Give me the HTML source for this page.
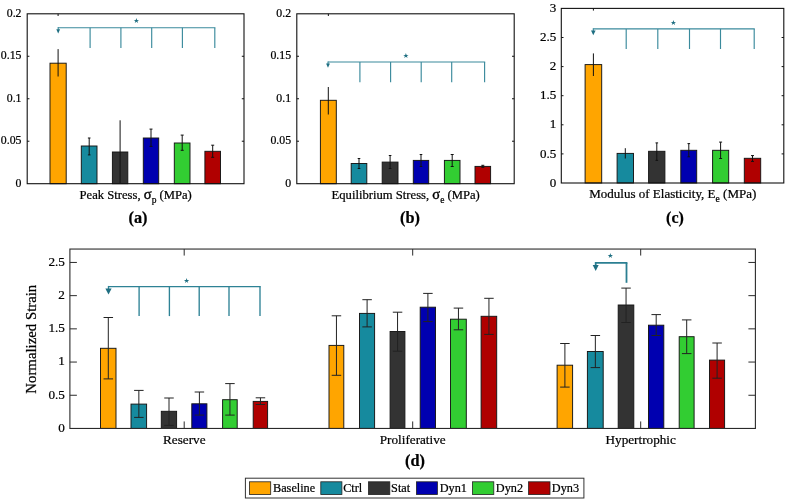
<!DOCTYPE html>
<html><head><meta charset="utf-8"><title>Figure</title>
<style>
html,body{margin:0;padding:0;background:#fff;}
svg{display:block;font-family:"Liberation Serif","DejaVu Serif",serif;}
svg text{stroke:#000;stroke-width:0.22px;}
svg text.star{stroke:none;}
</style></head>
<body>
<svg width="785" height="499" viewBox="0 0 785 499">
<rect width="785" height="499" fill="#fff"/>
<rect x="50.00" y="63.20" width="16.20" height="120.50" fill="#FFA500" stroke="#151515" stroke-width="0.95"/>
<rect x="81.30" y="146.00" width="15.70" height="37.70" fill="#168A9E" stroke="#151515" stroke-width="0.95"/>
<rect x="112.40" y="152.00" width="15.40" height="31.70" fill="#333333" stroke="#151515" stroke-width="0.95"/>
<rect x="143.30" y="138.00" width="15.40" height="45.70" fill="#0000B0" stroke="#151515" stroke-width="0.95"/>
<rect x="174.30" y="143.00" width="15.70" height="40.70" fill="#32CD32" stroke="#151515" stroke-width="0.95"/>
<rect x="204.90" y="151.30" width="15.60" height="32.40" fill="#B00000" stroke="#151515" stroke-width="0.95"/>
<line x1="58.10" y1="49.10" x2="58.10" y2="76.50" stroke="#111" stroke-width="1.0" />
<line x1="89.20" y1="138.00" x2="89.20" y2="154.90" stroke="#111" stroke-width="1.0" />
<line x1="87.90" y1="138.00" x2="90.50" y2="138.00" stroke="#111" stroke-width="1.0" />
<line x1="87.90" y1="154.90" x2="90.50" y2="154.90" stroke="#111" stroke-width="1.0" />
<line x1="120.10" y1="120.30" x2="120.10" y2="183.00" stroke="#111" stroke-width="1.0" />
<line x1="151.00" y1="129.10" x2="151.00" y2="146.40" stroke="#111" stroke-width="1.0" />
<line x1="149.50" y1="129.10" x2="152.50" y2="129.10" stroke="#111" stroke-width="1.0" />
<line x1="149.50" y1="146.40" x2="152.50" y2="146.40" stroke="#111" stroke-width="1.0" />
<line x1="182.20" y1="135.10" x2="182.20" y2="150.30" stroke="#111" stroke-width="1.0" />
<line x1="180.70" y1="135.10" x2="183.70" y2="135.10" stroke="#111" stroke-width="1.0" />
<line x1="180.70" y1="150.30" x2="183.70" y2="150.30" stroke="#111" stroke-width="1.0" />
<line x1="212.70" y1="145.20" x2="212.70" y2="157.30" stroke="#111" stroke-width="1.0" />
<line x1="211.20" y1="145.20" x2="214.20" y2="145.20" stroke="#111" stroke-width="1.0" />
<line x1="211.20" y1="157.30" x2="214.20" y2="157.30" stroke="#111" stroke-width="1.0" />
<rect x="27.20" y="13.80" width="216.80" height="169.90" fill="none" stroke="#111" stroke-width="1.1"/>
<text x="21.50" y="186.80" font-size="11.8" text-anchor="end" font-weight="normal" fill="#000" >0</text>
<line x1="27.20" y1="141.22" x2="29.40" y2="141.22" stroke="#111" stroke-width="1" />
<line x1="244.00" y1="141.22" x2="241.80" y2="141.22" stroke="#111" stroke-width="1" />
<text x="21.50" y="144.32" font-size="11.8" text-anchor="end" font-weight="normal" fill="#000" >0.05</text>
<line x1="27.20" y1="98.75" x2="29.40" y2="98.75" stroke="#111" stroke-width="1" />
<line x1="244.00" y1="98.75" x2="241.80" y2="98.75" stroke="#111" stroke-width="1" />
<text x="21.50" y="101.85" font-size="11.8" text-anchor="end" font-weight="normal" fill="#000" >0.1</text>
<line x1="27.20" y1="56.27" x2="29.40" y2="56.27" stroke="#111" stroke-width="1" />
<line x1="244.00" y1="56.27" x2="241.80" y2="56.27" stroke="#111" stroke-width="1" />
<text x="21.50" y="59.37" font-size="11.8" text-anchor="end" font-weight="normal" fill="#000" >0.15</text>
<text x="21.50" y="16.90" font-size="11.8" text-anchor="end" font-weight="normal" fill="#000" >0.2</text>
<line x1="58.10" y1="13.80" x2="58.10" y2="16.00" stroke="#111" stroke-width="1" />
<line x1="58.20" y1="27.70" x2="215.38" y2="27.70" stroke="#3A8A9C" stroke-width="1.15" />
<line x1="90.10" y1="27.70" x2="90.10" y2="47.90" stroke="#3A8A9C" stroke-width="1.15" />
<line x1="120.90" y1="27.70" x2="120.90" y2="47.90" stroke="#3A8A9C" stroke-width="1.15" />
<line x1="151.70" y1="27.70" x2="151.70" y2="47.90" stroke="#3A8A9C" stroke-width="1.15" />
<line x1="182.40" y1="27.70" x2="182.40" y2="47.90" stroke="#3A8A9C" stroke-width="1.15" />
<line x1="214.80" y1="27.70" x2="214.80" y2="47.90" stroke="#3A8A9C" stroke-width="1.15" />
<line x1="58.20" y1="27.12" x2="58.20" y2="29.65" stroke="#3A8A9C" stroke-width="1.15" />
<polygon points="56.30,29.15 60.10,29.15 58.20,33.50" fill="#1F6F82"/>
<text x="136.40" y="23.47" font-size="7.0" text-anchor="middle" fill="#1F6F82" class="star" font-family="DejaVu Sans, sans-serif">★</text>
<text x="135.7" y="199" font-size="12.65" text-anchor="middle" fill="#000">Peak Stress, <tspan font-size="14.5" stroke-width="0.4">σ</tspan><tspan font-size="9.5" dy="4.3">p</tspan><tspan dy="-4.3"> (MPa)</tspan></text>
<text x="138.00" y="223.20" font-size="16.3" text-anchor="middle" font-weight="bold" fill="#000" >(a)</text>
<rect x="320.40" y="100.30" width="15.90" height="83.40" fill="#FFA500" stroke="#151515" stroke-width="0.95"/>
<rect x="351.20" y="163.50" width="15.60" height="20.20" fill="#168A9E" stroke="#151515" stroke-width="0.95"/>
<rect x="382.20" y="162.10" width="15.80" height="21.60" fill="#333333" stroke="#151515" stroke-width="0.95"/>
<rect x="413.30" y="160.40" width="15.40" height="23.30" fill="#0000B0" stroke="#151515" stroke-width="0.95"/>
<rect x="444.40" y="160.40" width="15.60" height="23.30" fill="#32CD32" stroke="#151515" stroke-width="0.95"/>
<rect x="475.00" y="166.40" width="15.60" height="17.30" fill="#B00000" stroke="#151515" stroke-width="0.95"/>
<line x1="328.30" y1="87.00" x2="328.30" y2="114.50" stroke="#111" stroke-width="1.0" />
<line x1="359.00" y1="158.50" x2="359.00" y2="168.50" stroke="#111" stroke-width="1.0" />
<line x1="357.70" y1="158.50" x2="360.30" y2="158.50" stroke="#111" stroke-width="1.0" />
<line x1="357.70" y1="168.50" x2="360.30" y2="168.50" stroke="#111" stroke-width="1.0" />
<line x1="390.10" y1="155.50" x2="390.10" y2="168.50" stroke="#111" stroke-width="1.0" />
<line x1="388.80" y1="155.50" x2="391.40" y2="155.50" stroke="#111" stroke-width="1.0" />
<line x1="388.80" y1="168.50" x2="391.40" y2="168.50" stroke="#111" stroke-width="1.0" />
<line x1="421.00" y1="154.50" x2="421.00" y2="166.50" stroke="#111" stroke-width="1.0" />
<line x1="419.70" y1="154.50" x2="422.30" y2="154.50" stroke="#111" stroke-width="1.0" />
<line x1="419.70" y1="166.50" x2="422.30" y2="166.50" stroke="#111" stroke-width="1.0" />
<line x1="452.20" y1="154.50" x2="452.20" y2="166.50" stroke="#111" stroke-width="1.0" />
<line x1="450.70" y1="154.50" x2="453.70" y2="154.50" stroke="#111" stroke-width="1.0" />
<line x1="450.70" y1="166.50" x2="453.70" y2="166.50" stroke="#111" stroke-width="1.0" />
<line x1="482.80" y1="165.30" x2="482.80" y2="167.30" stroke="#111" stroke-width="1.0" />
<line x1="481.30" y1="165.30" x2="484.30" y2="165.30" stroke="#111" stroke-width="1.0" />
<line x1="481.30" y1="167.30" x2="484.30" y2="167.30" stroke="#111" stroke-width="1.0" />
<rect x="296.80" y="13.80" width="217.40" height="169.90" fill="none" stroke="#111" stroke-width="1.1"/>
<text x="291.10" y="186.80" font-size="11.8" text-anchor="end" font-weight="normal" fill="#000" >0</text>
<line x1="296.80" y1="141.22" x2="299.00" y2="141.22" stroke="#111" stroke-width="1" />
<line x1="514.20" y1="141.22" x2="512.00" y2="141.22" stroke="#111" stroke-width="1" />
<text x="291.10" y="144.32" font-size="11.8" text-anchor="end" font-weight="normal" fill="#000" >0.05</text>
<line x1="296.80" y1="98.75" x2="299.00" y2="98.75" stroke="#111" stroke-width="1" />
<line x1="514.20" y1="98.75" x2="512.00" y2="98.75" stroke="#111" stroke-width="1" />
<text x="291.10" y="101.85" font-size="11.8" text-anchor="end" font-weight="normal" fill="#000" >0.1</text>
<line x1="296.80" y1="56.27" x2="299.00" y2="56.27" stroke="#111" stroke-width="1" />
<line x1="514.20" y1="56.27" x2="512.00" y2="56.27" stroke="#111" stroke-width="1" />
<text x="291.10" y="59.37" font-size="11.8" text-anchor="end" font-weight="normal" fill="#000" >0.15</text>
<text x="291.10" y="16.90" font-size="11.8" text-anchor="end" font-weight="normal" fill="#000" >0.2</text>
<line x1="328.35" y1="13.80" x2="328.35" y2="16.00" stroke="#111" stroke-width="1" />
<line x1="328.00" y1="62.00" x2="485.18" y2="62.00" stroke="#3A8A9C" stroke-width="1.15" />
<line x1="359.90" y1="62.00" x2="359.90" y2="82.30" stroke="#3A8A9C" stroke-width="1.15" />
<line x1="390.60" y1="62.00" x2="390.60" y2="82.30" stroke="#3A8A9C" stroke-width="1.15" />
<line x1="421.20" y1="62.00" x2="421.20" y2="82.30" stroke="#3A8A9C" stroke-width="1.15" />
<line x1="451.70" y1="62.00" x2="451.70" y2="82.30" stroke="#3A8A9C" stroke-width="1.15" />
<line x1="484.60" y1="62.00" x2="484.60" y2="82.30" stroke="#3A8A9C" stroke-width="1.15" />
<line x1="328.00" y1="61.42" x2="328.00" y2="63.95" stroke="#3A8A9C" stroke-width="1.15" />
<polygon points="326.10,63.45 329.90,63.45 328.00,67.80" fill="#1F6F82"/>
<text x="405.90" y="57.97" font-size="7.0" text-anchor="middle" fill="#1F6F82" class="star" font-family="DejaVu Sans, sans-serif">★</text>
<text x="405.7" y="199" font-size="12.65" text-anchor="middle" fill="#000">Equilibrium Stress, <tspan font-size="14.5" stroke-width="0.4">σ</tspan><tspan font-size="9.5" dy="3.6">e</tspan><tspan dy="-3.6"> (MPa)</tspan></text>
<text x="410.00" y="223.20" font-size="16.3" text-anchor="middle" font-weight="bold" fill="#000" >(b)</text>
<rect x="585.10" y="64.60" width="16.60" height="118.40" fill="#FFA500" stroke="#151515" stroke-width="0.95"/>
<rect x="617.10" y="153.40" width="16.40" height="29.60" fill="#168A9E" stroke="#151515" stroke-width="0.95"/>
<rect x="648.60" y="151.30" width="16.30" height="31.70" fill="#333333" stroke="#151515" stroke-width="0.95"/>
<rect x="680.80" y="150.30" width="15.90" height="32.70" fill="#0000B0" stroke="#151515" stroke-width="0.95"/>
<rect x="712.60" y="150.30" width="16.10" height="32.70" fill="#32CD32" stroke="#151515" stroke-width="0.95"/>
<rect x="744.30" y="158.30" width="16.40" height="24.70" fill="#B00000" stroke="#151515" stroke-width="0.95"/>
<line x1="593.40" y1="53.40" x2="593.40" y2="76.00" stroke="#111" stroke-width="1.0" />
<line x1="625.30" y1="148.20" x2="625.30" y2="158.50" stroke="#111" stroke-width="1.0" />
<line x1="656.80" y1="142.90" x2="656.80" y2="160.40" stroke="#111" stroke-width="1.0" />
<line x1="655.50" y1="142.90" x2="658.10" y2="142.90" stroke="#111" stroke-width="1.0" />
<line x1="655.50" y1="160.40" x2="658.10" y2="160.40" stroke="#111" stroke-width="1.0" />
<line x1="688.80" y1="143.60" x2="688.80" y2="156.80" stroke="#111" stroke-width="1.0" />
<line x1="687.50" y1="143.60" x2="690.10" y2="143.60" stroke="#111" stroke-width="1.0" />
<line x1="687.50" y1="156.80" x2="690.10" y2="156.80" stroke="#111" stroke-width="1.0" />
<line x1="720.60" y1="142.10" x2="720.60" y2="158.50" stroke="#111" stroke-width="1.0" />
<line x1="719.10" y1="142.10" x2="722.10" y2="142.10" stroke="#111" stroke-width="1.0" />
<line x1="719.10" y1="158.50" x2="722.10" y2="158.50" stroke="#111" stroke-width="1.0" />
<line x1="752.50" y1="155.60" x2="752.50" y2="161.40" stroke="#111" stroke-width="1.0" />
<line x1="751.00" y1="155.60" x2="754.00" y2="155.60" stroke="#111" stroke-width="1.0" />
<line x1="751.00" y1="161.40" x2="754.00" y2="161.40" stroke="#111" stroke-width="1.0" />
<rect x="561.30" y="8.40" width="222.50" height="174.60" fill="none" stroke="#111" stroke-width="1.1"/>
<text x="556.30" y="186.60" font-size="13" text-anchor="end" font-weight="normal" fill="#000" >0</text>
<line x1="561.30" y1="153.90" x2="563.50" y2="153.90" stroke="#111" stroke-width="1" />
<line x1="783.80" y1="153.90" x2="781.60" y2="153.90" stroke="#111" stroke-width="1" />
<text x="556.30" y="157.50" font-size="13" text-anchor="end" font-weight="normal" fill="#000" >0.5</text>
<line x1="561.30" y1="124.80" x2="563.50" y2="124.80" stroke="#111" stroke-width="1" />
<line x1="783.80" y1="124.80" x2="781.60" y2="124.80" stroke="#111" stroke-width="1" />
<text x="556.30" y="128.40" font-size="13" text-anchor="end" font-weight="normal" fill="#000" >1</text>
<line x1="561.30" y1="95.70" x2="563.50" y2="95.70" stroke="#111" stroke-width="1" />
<line x1="783.80" y1="95.70" x2="781.60" y2="95.70" stroke="#111" stroke-width="1" />
<text x="556.30" y="99.30" font-size="13" text-anchor="end" font-weight="normal" fill="#000" >1.5</text>
<line x1="561.30" y1="66.60" x2="563.50" y2="66.60" stroke="#111" stroke-width="1" />
<line x1="783.80" y1="66.60" x2="781.60" y2="66.60" stroke="#111" stroke-width="1" />
<text x="556.30" y="70.20" font-size="13" text-anchor="end" font-weight="normal" fill="#000" >2</text>
<line x1="561.30" y1="37.50" x2="563.50" y2="37.50" stroke="#111" stroke-width="1" />
<line x1="783.80" y1="37.50" x2="781.60" y2="37.50" stroke="#111" stroke-width="1" />
<text x="556.30" y="41.10" font-size="13" text-anchor="end" font-weight="normal" fill="#000" >2.5</text>
<text x="556.30" y="12.00" font-size="13" text-anchor="end" font-weight="normal" fill="#000" >3</text>
<line x1="593.40" y1="8.40" x2="593.40" y2="10.60" stroke="#111" stroke-width="1" />
<line x1="593.30" y1="28.90" x2="754.78" y2="28.90" stroke="#3A8A9C" stroke-width="1.15" />
<line x1="626.20" y1="28.90" x2="626.20" y2="49.00" stroke="#3A8A9C" stroke-width="1.15" />
<line x1="657.80" y1="28.90" x2="657.80" y2="49.00" stroke="#3A8A9C" stroke-width="1.15" />
<line x1="689.50" y1="28.90" x2="689.50" y2="49.00" stroke="#3A8A9C" stroke-width="1.15" />
<line x1="720.50" y1="28.90" x2="720.50" y2="49.00" stroke="#3A8A9C" stroke-width="1.15" />
<line x1="754.20" y1="28.90" x2="754.20" y2="49.00" stroke="#3A8A9C" stroke-width="1.15" />
<line x1="593.30" y1="28.32" x2="593.30" y2="30.97" stroke="#3A8A9C" stroke-width="1.15" />
<polygon points="591.00,30.47 595.60,30.47 593.30,35.20" fill="#1F6F82"/>
<text x="673.30" y="25.07" font-size="7.0" text-anchor="middle" fill="#1F6F82" class="star" font-family="DejaVu Sans, sans-serif">★</text>
<text x="672.8" y="198" font-size="13" text-anchor="middle" fill="#000">Modulus of Elasticity, E<tspan font-size="9.6" dy="4">e</tspan><tspan dy="-4"> (MPa)</tspan></text>
<text x="675.00" y="222.50" font-size="16" text-anchor="middle" font-weight="bold" fill="#000" >(c)</text>
<rect x="100.50" y="348.30" width="15.50" height="80.15" fill="#FFA500" stroke="#151515" stroke-width="0.95"/>
<rect x="131.00" y="404.10" width="15.60" height="24.35" fill="#168A9E" stroke="#151515" stroke-width="0.95"/>
<rect x="161.30" y="411.30" width="15.30" height="17.15" fill="#333333" stroke="#151515" stroke-width="0.95"/>
<rect x="191.80" y="403.80" width="15.10" height="24.65" fill="#0000B0" stroke="#151515" stroke-width="0.95"/>
<rect x="222.60" y="399.70" width="14.60" height="28.75" fill="#32CD32" stroke="#151515" stroke-width="0.95"/>
<rect x="253.20" y="401.40" width="14.40" height="27.05" fill="#B00000" stroke="#151515" stroke-width="0.95"/>
<line x1="108.30" y1="317.50" x2="108.30" y2="378.90" stroke="#222" stroke-width="1.0" />
<line x1="103.55" y1="317.50" x2="113.05" y2="317.50" stroke="#222" stroke-width="1.0" />
<line x1="103.55" y1="378.90" x2="113.05" y2="378.90" stroke="#222" stroke-width="1.0" />
<line x1="138.85" y1="390.40" x2="138.85" y2="417.40" stroke="#222" stroke-width="1.0" />
<line x1="134.10" y1="390.40" x2="143.60" y2="390.40" stroke="#222" stroke-width="1.0" />
<line x1="134.10" y1="417.40" x2="143.60" y2="417.40" stroke="#222" stroke-width="1.0" />
<line x1="169.00" y1="398.00" x2="169.00" y2="425.40" stroke="#222" stroke-width="1.0" />
<line x1="164.25" y1="398.00" x2="173.75" y2="398.00" stroke="#222" stroke-width="1.0" />
<line x1="164.25" y1="425.40" x2="173.75" y2="425.40" stroke="#222" stroke-width="1.0" />
<line x1="199.40" y1="392.00" x2="199.40" y2="415.10" stroke="#222" stroke-width="1.0" />
<line x1="194.65" y1="392.00" x2="204.15" y2="392.00" stroke="#222" stroke-width="1.0" />
<line x1="194.65" y1="415.10" x2="204.15" y2="415.10" stroke="#222" stroke-width="1.0" />
<line x1="229.95" y1="383.60" x2="229.95" y2="415.10" stroke="#222" stroke-width="1.0" />
<line x1="225.20" y1="383.60" x2="234.70" y2="383.60" stroke="#222" stroke-width="1.0" />
<line x1="225.20" y1="415.10" x2="234.70" y2="415.10" stroke="#222" stroke-width="1.0" />
<line x1="260.45" y1="397.80" x2="260.45" y2="404.50" stroke="#222" stroke-width="1.0" />
<line x1="255.70" y1="397.80" x2="265.20" y2="397.80" stroke="#222" stroke-width="1.0" />
<line x1="255.70" y1="404.50" x2="265.20" y2="404.50" stroke="#222" stroke-width="1.0" />
<rect x="329.00" y="345.40" width="14.80" height="83.05" fill="#FFA500" stroke="#151515" stroke-width="0.95"/>
<rect x="359.50" y="313.40" width="15.10" height="115.05" fill="#168A9E" stroke="#151515" stroke-width="0.95"/>
<rect x="390.10" y="331.50" width="14.80" height="96.95" fill="#333333" stroke="#151515" stroke-width="0.95"/>
<rect x="420.20" y="307.20" width="15.30" height="121.25" fill="#0000B0" stroke="#151515" stroke-width="0.95"/>
<rect x="450.50" y="319.20" width="15.80" height="109.25" fill="#32CD32" stroke="#151515" stroke-width="0.95"/>
<rect x="481.10" y="316.30" width="15.60" height="112.15" fill="#B00000" stroke="#151515" stroke-width="0.95"/>
<line x1="336.45" y1="315.80" x2="336.45" y2="375.30" stroke="#222" stroke-width="1.0" />
<line x1="331.70" y1="315.80" x2="341.20" y2="315.80" stroke="#222" stroke-width="1.0" />
<line x1="331.70" y1="375.30" x2="341.20" y2="375.30" stroke="#222" stroke-width="1.0" />
<line x1="367.10" y1="299.70" x2="367.10" y2="326.90" stroke="#222" stroke-width="1.0" />
<line x1="362.35" y1="299.70" x2="371.85" y2="299.70" stroke="#222" stroke-width="1.0" />
<line x1="362.35" y1="326.90" x2="371.85" y2="326.90" stroke="#222" stroke-width="1.0" />
<line x1="397.55" y1="312.20" x2="397.55" y2="351.20" stroke="#222" stroke-width="1.0" />
<line x1="392.80" y1="312.20" x2="402.30" y2="312.20" stroke="#222" stroke-width="1.0" />
<line x1="392.80" y1="351.20" x2="402.30" y2="351.20" stroke="#222" stroke-width="1.0" />
<line x1="427.90" y1="293.40" x2="427.90" y2="321.60" stroke="#222" stroke-width="1.0" />
<line x1="423.15" y1="293.40" x2="432.65" y2="293.40" stroke="#222" stroke-width="1.0" />
<line x1="423.15" y1="321.60" x2="432.65" y2="321.60" stroke="#222" stroke-width="1.0" />
<line x1="458.45" y1="308.10" x2="458.45" y2="329.80" stroke="#222" stroke-width="1.0" />
<line x1="453.70" y1="308.10" x2="463.20" y2="308.10" stroke="#222" stroke-width="1.0" />
<line x1="453.70" y1="329.80" x2="463.20" y2="329.80" stroke="#222" stroke-width="1.0" />
<line x1="488.95" y1="298.30" x2="488.95" y2="334.40" stroke="#222" stroke-width="1.0" />
<line x1="484.20" y1="298.30" x2="493.70" y2="298.30" stroke="#222" stroke-width="1.0" />
<line x1="484.20" y1="334.40" x2="493.70" y2="334.40" stroke="#222" stroke-width="1.0" />
<rect x="557.10" y="365.20" width="15.50" height="63.25" fill="#FFA500" stroke="#151515" stroke-width="0.95"/>
<rect x="587.40" y="351.50" width="15.80" height="76.95" fill="#168A9E" stroke="#151515" stroke-width="0.95"/>
<rect x="618.20" y="305.00" width="15.60" height="123.45" fill="#333333" stroke="#151515" stroke-width="0.95"/>
<rect x="648.50" y="325.20" width="15.30" height="103.25" fill="#0000B0" stroke="#151515" stroke-width="0.95"/>
<rect x="679.20" y="336.70" width="14.90" height="91.75" fill="#32CD32" stroke="#151515" stroke-width="0.95"/>
<rect x="709.50" y="360.10" width="15.10" height="68.35" fill="#B00000" stroke="#151515" stroke-width="0.95"/>
<line x1="564.90" y1="343.50" x2="564.90" y2="387.10" stroke="#222" stroke-width="1.0" />
<line x1="560.15" y1="343.50" x2="569.65" y2="343.50" stroke="#222" stroke-width="1.0" />
<line x1="560.15" y1="387.10" x2="569.65" y2="387.10" stroke="#222" stroke-width="1.0" />
<line x1="595.35" y1="335.50" x2="595.35" y2="367.60" stroke="#222" stroke-width="1.0" />
<line x1="590.60" y1="335.50" x2="600.10" y2="335.50" stroke="#222" stroke-width="1.0" />
<line x1="590.60" y1="367.60" x2="600.10" y2="367.60" stroke="#222" stroke-width="1.0" />
<line x1="626.05" y1="288.10" x2="626.05" y2="322.50" stroke="#222" stroke-width="1.0" />
<line x1="621.30" y1="288.10" x2="630.80" y2="288.10" stroke="#222" stroke-width="1.0" />
<line x1="621.30" y1="322.50" x2="630.80" y2="322.50" stroke="#222" stroke-width="1.0" />
<line x1="656.20" y1="314.60" x2="656.20" y2="335.50" stroke="#222" stroke-width="1.0" />
<line x1="651.45" y1="314.60" x2="660.95" y2="314.60" stroke="#222" stroke-width="1.0" />
<line x1="651.45" y1="335.50" x2="660.95" y2="335.50" stroke="#222" stroke-width="1.0" />
<line x1="686.70" y1="319.90" x2="686.70" y2="353.60" stroke="#222" stroke-width="1.0" />
<line x1="681.95" y1="319.90" x2="691.45" y2="319.90" stroke="#222" stroke-width="1.0" />
<line x1="681.95" y1="353.60" x2="691.45" y2="353.60" stroke="#222" stroke-width="1.0" />
<line x1="717.10" y1="343.00" x2="717.10" y2="378.20" stroke="#222" stroke-width="1.0" />
<line x1="712.35" y1="343.00" x2="721.85" y2="343.00" stroke="#222" stroke-width="1.0" />
<line x1="712.35" y1="378.20" x2="721.85" y2="378.20" stroke="#222" stroke-width="1.0" />
<rect x="69.9" y="249.05" width="685.50" height="179.40" fill="none" stroke="#2a2a2a" stroke-width="1.1"/>
<text x="64.90" y="431.75" font-size="13.2" text-anchor="end" font-weight="normal" fill="#000" >0</text>
<line x1="69.90" y1="395.25" x2="76.90" y2="395.25" stroke="#2a2a2a" stroke-width="1" />
<line x1="755.40" y1="395.25" x2="748.40" y2="395.25" stroke="#2a2a2a" stroke-width="1" />
<text x="64.90" y="398.55" font-size="13.2" text-anchor="end" font-weight="normal" fill="#000" >0.5</text>
<line x1="69.90" y1="362.05" x2="76.90" y2="362.05" stroke="#2a2a2a" stroke-width="1" />
<line x1="755.40" y1="362.05" x2="748.40" y2="362.05" stroke="#2a2a2a" stroke-width="1" />
<text x="64.90" y="365.35" font-size="13.2" text-anchor="end" font-weight="normal" fill="#000" >1</text>
<line x1="69.90" y1="328.85" x2="76.90" y2="328.85" stroke="#2a2a2a" stroke-width="1" />
<line x1="755.40" y1="328.85" x2="748.40" y2="328.85" stroke="#2a2a2a" stroke-width="1" />
<text x="64.90" y="332.15" font-size="13.2" text-anchor="end" font-weight="normal" fill="#000" >1.5</text>
<line x1="69.90" y1="295.65" x2="76.90" y2="295.65" stroke="#2a2a2a" stroke-width="1" />
<line x1="755.40" y1="295.65" x2="748.40" y2="295.65" stroke="#2a2a2a" stroke-width="1" />
<text x="64.90" y="298.95" font-size="13.2" text-anchor="end" font-weight="normal" fill="#000" >2</text>
<line x1="69.90" y1="262.45" x2="76.90" y2="262.45" stroke="#2a2a2a" stroke-width="1" />
<line x1="755.40" y1="262.45" x2="748.40" y2="262.45" stroke="#2a2a2a" stroke-width="1" />
<text x="64.90" y="265.75" font-size="13.2" text-anchor="end" font-weight="normal" fill="#000" >2.5</text>
<line x1="184.20" y1="428.45" x2="184.20" y2="421.45" stroke="#2a2a2a" stroke-width="1" />
<line x1="184.20" y1="249.05" x2="184.20" y2="255.55" stroke="#2a2a2a" stroke-width="1" />
<line x1="412.70" y1="428.45" x2="412.70" y2="421.45" stroke="#2a2a2a" stroke-width="1" />
<line x1="412.70" y1="249.05" x2="412.70" y2="255.55" stroke="#2a2a2a" stroke-width="1" />
<line x1="640.70" y1="428.45" x2="640.70" y2="421.45" stroke="#2a2a2a" stroke-width="1" />
<line x1="640.70" y1="249.05" x2="640.70" y2="255.55" stroke="#2a2a2a" stroke-width="1" />
<text x="184.30" y="443.60" font-size="13.2" text-anchor="middle" font-weight="normal" fill="#000" >Reserve</text>
<text x="412.70" y="443.60" font-size="13.2" text-anchor="middle" font-weight="normal" fill="#000" >Proliferative</text>
<text x="640.70" y="443.60" font-size="13.2" text-anchor="middle" font-weight="normal" fill="#000" >Hypertrophic</text>
<text x="415.00" y="466.00" font-size="16.3" text-anchor="middle" font-weight="bold" fill="#000" >(d)</text>
<text transform="translate(35.8,339.2) rotate(-90)" font-size="14.8" text-anchor="middle" fill="#000">Normalized Strain</text>
<line x1="108.50" y1="286.60" x2="260.68" y2="286.60" stroke="#2E8295" stroke-width="1.35" />
<line x1="139.10" y1="286.60" x2="139.10" y2="316.10" stroke="#2E8295" stroke-width="1.35" />
<line x1="169.40" y1="286.60" x2="169.40" y2="316.10" stroke="#2E8295" stroke-width="1.35" />
<line x1="199.20" y1="286.60" x2="199.20" y2="316.10" stroke="#2E8295" stroke-width="1.35" />
<line x1="229.00" y1="286.60" x2="229.00" y2="316.10" stroke="#2E8295" stroke-width="1.35" />
<line x1="260.00" y1="286.60" x2="260.00" y2="316.10" stroke="#2E8295" stroke-width="1.35" />
<line x1="108.50" y1="285.93" x2="108.50" y2="289.10" stroke="#2E8295" stroke-width="1.35" />
<polygon points="105.35,288.60 111.65,288.60 108.50,294.60" fill="#1F6F82"/>
<text x="186.60" y="282.63" font-size="6.9" text-anchor="middle" fill="#1F6F82" class="star" font-family="DejaVu Sans, sans-serif">★</text>
<line x1="595.70" y1="262.90" x2="627.40" y2="262.90" stroke="#2B7F92" stroke-width="1.8" />
<line x1="626.50" y1="262.90" x2="626.50" y2="282.80" stroke="#2B7F92" stroke-width="1.8" />
<line x1="595.70" y1="262.00" x2="595.70" y2="265.40" stroke="#2B7F92" stroke-width="1.8" />
<polygon points="592.70,264.90 598.70,264.90 595.70,270.90" fill="#1F6F82"/>
<text x="610.40" y="258.43" font-size="6.9" text-anchor="middle" fill="#1F6F82" class="star" font-family="DejaVu Sans, sans-serif">★</text>
<rect x="245.4" y="478.2" width="338.5" height="19.8" fill="#fff" stroke="#333" stroke-width="1"/>
<rect x="249.4" y="481.8" width="21.30" height="12.8" fill="#FFA500" stroke="#222" stroke-width="0.8"/>
<text x="273.00" y="492.40" font-size="12.25" text-anchor="start" font-weight="normal" fill="#000" >Baseline</text>
<rect x="320.8" y="481.8" width="21.10" height="12.8" fill="#168A9E" stroke="#222" stroke-width="0.8"/>
<text x="343.20" y="492.40" font-size="12.25" text-anchor="start" font-weight="normal" fill="#000" >Ctrl</text>
<rect x="368.5" y="481.8" width="21.30" height="12.8" fill="#333333" stroke="#222" stroke-width="0.8"/>
<text x="391.10" y="492.40" font-size="12.25" text-anchor="start" font-weight="normal" fill="#000" >Stat</text>
<rect x="416.4" y="481.8" width="21.00" height="12.8" fill="#0000B0" stroke="#222" stroke-width="0.8"/>
<text x="439.70" y="492.40" font-size="12.25" text-anchor="start" font-weight="normal" fill="#000" >Dyn1</text>
<rect x="472.5" y="481.8" width="21.30" height="12.8" fill="#32CD32" stroke="#222" stroke-width="0.8"/>
<text x="495.80" y="492.40" font-size="12.25" text-anchor="start" font-weight="normal" fill="#000" >Dyn2</text>
<rect x="528.6" y="481.8" width="21.40" height="12.8" fill="#B00000" stroke="#222" stroke-width="0.8"/>
<text x="551.80" y="492.40" font-size="12.25" text-anchor="start" font-weight="normal" fill="#000" >Dyn3</text>
</svg>
</body></html>
